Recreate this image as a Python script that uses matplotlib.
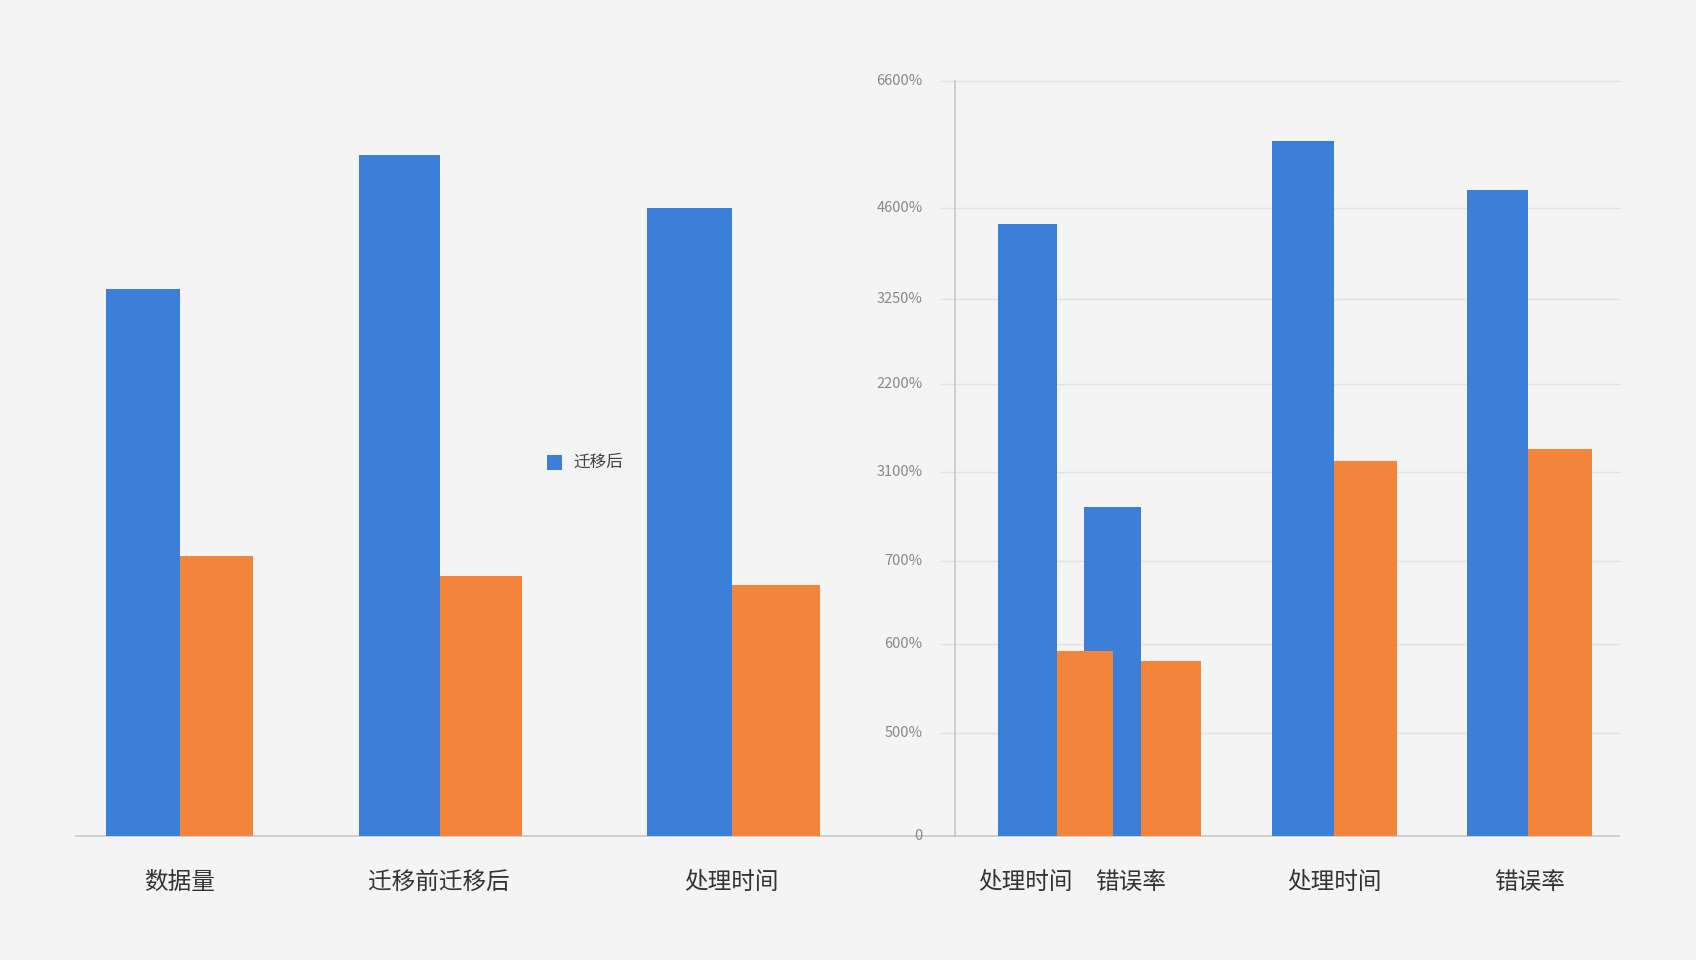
import matplotlib
matplotlib.use("Agg")
import matplotlib.pyplot as plt

plt.rcParams['font.family'] = ['Noto Sans CJK SC', 'DejaVu Sans']

# layout in reference pixel units (x), values in chart units (y)
categories = ["数据量", "迁移前迁移后", "处理时间", "处理时间", "错误率", "处理时间", "错误率"]
cat_x = [166, 406, 676, 948, 1045, 1234, 1414]

blue_left = [506, 630, 581, 566, 304, 643, 597]
blue_right = [166, 407, 677, 977, 1055, 1233, 1413]
orange_right = [234, 483, 758, 1029, 1110, 1292, 1472]
orange_vals = [259, 240, 232, 171, 162, 347, 358]
blue_start = [98, 332, 598, 923, 1002, 1176, 1356]

tick_vals = [698, 581, 496, 418, 336, 254, 177, 95, 0]
tick_labels = ["6600%", "4600%", "3250%", "2200%", "3100%", "700%", "600%", "500%", "0"]

BLUE = "#3c7fd9"
ORANGE = "#f2843c"
BG = "#f4f4f4"

fig = plt.figure(figsize=(16.96, 9.6), dpi=100, facecolor=BG)
ax = fig.add_axes([0, 0, 1, 1])
ax.set_facecolor(BG)
ax.set_xlim(0, 1568)
ax.set_ylim(773 - 888, 773)
ax.axis("off")

# gridlines and axis of right panel
for v, lab in zip(tick_vals, tick_labels):
    if v > 0:
        ax.plot([870, 1497], [v, v], color="#e2e2e2", lw=1, zorder=0)
    ax.text(853, v, lab, ha="right", va="center", fontsize=10.5, color="#888888")
ax.plot([883, 883], [0, 698], color="#c8c8c8", lw=1.2, zorder=1)
ax.plot([70, 1497], [0, 0], color="#c8c8c8", lw=1.2, zorder=1)

for bs, br, bv, orr, ov in zip(blue_start, blue_right, blue_left, orange_right, orange_vals):
    ax.bar(bs, bv, width=br - bs, align="edge", color=BLUE, zorder=2)
    ax.bar(br, ov, width=orr - br, align="edge", color=ORANGE, zorder=3)

for x, c in zip(cat_x, categories):
    ax.text(x, -43, c, ha="center", va="center", fontsize=17, color="#333333")

# legend
ax.bar(506, 14, width=14, bottom=773 - 435, align="edge", color=BLUE)
ax.text(530, 773 - 428, "迁移后", ha="left", va="center", fontsize=12, color="#444444")

fig.savefig("out.png", dpi=100, facecolor=BG)
